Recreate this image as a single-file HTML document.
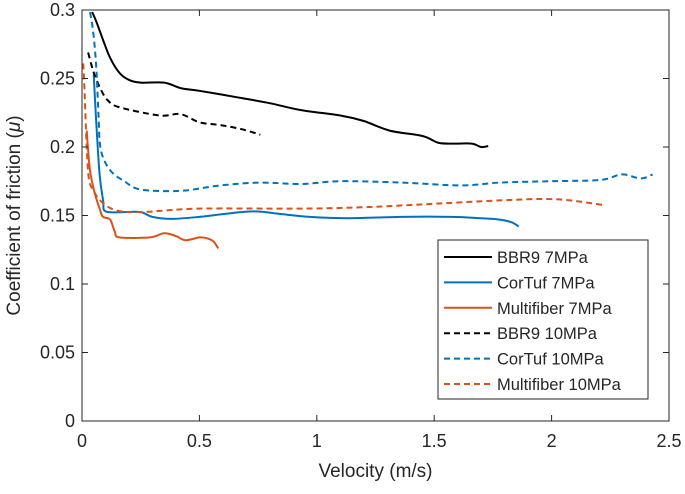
<!DOCTYPE html>
<html><head><meta charset="utf-8"><style>
body{margin:0;background:#fff}
svg text{font-family:"Liberation Sans",Arial,sans-serif;fill:#262626}
</style></head><body>
<svg id="chart" width="685" height="489" xmlns="http://www.w3.org/2000/svg">
<g id="marks"></g>
<g id="axes"></g>
<g id="legend"></g>
</svg>
<script>
const xTicks=[0,0.5,1,1.5,2,2.5];
const xTickLabels=["0","0.5","1","1.5","2","2.5"];
const yTicks=[0,0.05,0.1,0.15,0.2,0.25,0.3];
const yTickLabels=["0","0.05","0.1","0.15","0.2","0.25","0.3"];
const seriesNames=["BBR9 7MPa","CorTuf 7MPa","Multifiber 7MPa","BBR9 10MPa","CorTuf 10MPa","Multifiber 10MPa"];
const bbr7=[[0.043,0.2985],[0.06,0.292],[0.09,0.278],[0.12,0.265],[0.16,0.254],[0.2,0.249],[0.25,0.247],[0.35,0.247],[0.42,0.243],[0.5,0.241],[0.67,0.236],[0.8,0.232],[0.93,0.227],[1.1,0.223],[1.2,0.219],[1.31,0.212],[1.45,0.208],[1.52,0.203],[1.59,0.2025],[1.66,0.2025],[1.70,0.2],[1.73,0.2007]];
const cor7=[[0.05,0.253],[0.06,0.22],[0.075,0.18],[0.09,0.161],[0.1,0.153],[0.18,0.1525],[0.25,0.1525],[0.3,0.149],[0.38,0.1475],[0.5,0.149],[0.6,0.151],[0.73,0.153],[0.85,0.151],[0.97,0.149],[1.14,0.148],[1.36,0.149],[1.57,0.149],[1.7,0.148],[1.78,0.147],[1.83,0.145],[1.86,0.142]];
const mf7=[[0.02,0.212],[0.034,0.183],[0.055,0.166],[0.077,0.154],[0.09,0.149],[0.12,0.147],[0.14,0.138],[0.16,0.134],[0.29,0.134],[0.35,0.137],[0.4,0.135],[0.44,0.132],[0.5,0.134],[0.53,0.1335],[0.56,0.131],[0.58,0.126]];
const bbr10=[[0.026,0.269],[0.04,0.26],[0.055,0.252],[0.08,0.242],[0.11,0.234],[0.16,0.229],[0.33,0.223],[0.42,0.224],[0.5,0.218],[0.59,0.216],[0.68,0.213],[0.76,0.209]];
const cor10=[[0.034,0.2985],[0.047,0.285],[0.06,0.26],[0.07,0.225],[0.08,0.198],[0.12,0.183],[0.18,0.175],[0.25,0.169],[0.42,0.168],[0.59,0.172],[0.76,0.174],[0.93,0.173],[1.1,0.175],[1.36,0.174],[1.61,0.172],[1.78,0.174],[2.0,0.175],[2.21,0.176],[2.3,0.18],[2.38,0.177],[2.43,0.18]];
const mf10=[[0.005,0.261],[0.01,0.245],[0.02,0.2],[0.03,0.176],[0.05,0.168],[0.077,0.161],[0.14,0.154],[0.25,0.1525],[0.5,0.155],[0.93,0.155],[1.19,0.156],[1.44,0.158],[1.78,0.161],[2.0,0.162],[2.17,0.159],[2.23,0.157]];
const seriesData=[bbr7,cor7,mf7,bbr10,cor10,mf10];
const colors=["#000000","#0072bd","#d95319","#000000","#0072bd","#d95319"];
const dashed=[false,false,false,true,true,true];
const L=82,R=669,T=10,B=421;
const xs=v=>L+v/2.5*(R-L), ys=v=>B-v/0.3*(B-T);
const NS="http://www.w3.org/2000/svg";
function mk(t,a,p){const e=document.createElementNS(NS,t);for(const k in a)e.setAttribute(k,a[k]);p.appendChild(e);return e;}
function smooth(pts){
 let d='M'+pts[0][0].toFixed(1)+' '+pts[0][1].toFixed(1);
 for(let i=0;i<pts.length-1;i++){
  const p0=pts[Math.max(0,i-1)],p1=pts[i],p2=pts[i+1],p3=pts[Math.min(pts.length-1,i+2)];
  const c1=[p1[0]+(p2[0]-p0[0])/6,p1[1]+(p2[1]-p0[1])/6],c2=[p2[0]-(p3[0]-p1[0])/6,p2[1]-(p3[1]-p1[1])/6];
  d+=' C'+c1.map(v=>v.toFixed(1)).join(' ')+' '+c2.map(v=>v.toFixed(1)).join(' ')+' '+p2[0].toFixed(1)+' '+p2[1].toFixed(1);
 }
 return d;
}
const marks=document.getElementById('marks'),axes=document.getElementById('axes'),leg=document.getElementById('legend');
mk('rect',{x:L,y:T,width:R-L,height:B-T,fill:'#fff'},marks);
seriesData.forEach((d,i)=>{
 const p=mk('path',{d:smooth(d.map(q=>[xs(q[0]),ys(q[1])])),fill:'none',stroke:colors[i],'stroke-width':2,'stroke-linejoin':'round','stroke-dasharray':dashed[i]?'6,4':'none'},marks);
 
 
});
const box=mk('rect',{x:L,y:T,width:R-L,height:B-T,fill:'none',stroke:'#262626','stroke-width':1},axes);


xTicks.forEach((v,i)=>{const x=xs(v);
 mk('line',{x1:x,x2:x,y1:B,y2:B-6,stroke:'#262626'},axes);mk('line',{x1:x,x2:x,y1:T,y2:T+6,stroke:'#262626'},axes);
 const t=mk('text',{x:x,y:B+26,'text-anchor':'middle','font-size':18},axes);t.textContent=xTickLabels[i];
 
 });
yTicks.forEach((v,i)=>{const y=ys(v);
 mk('line',{x1:L,x2:L+6,y1:y,y2:y,stroke:'#262626'},axes);mk('line',{x1:R,x2:R-6,y1:y,y2:y,stroke:'#262626'},axes);
 const t=mk('text',{x:L-7,y:y+6,'text-anchor':'end','font-size':18},axes);t.textContent=yTickLabels[i];
 
 });
const xt=mk('text',{x:(L+R)/2,y:477,'text-anchor':'middle','font-size':19},axes);xt.textContent='Velocity (m/s)';


const yt=mk('text',{x:0,y:0,'text-anchor':'middle','font-size':19,transform:`translate(20,${(T+B)/2}) rotate(-90)`},axes);
yt.innerHTML='Coefficient of friction (<tspan font-style="italic">\u03bc</tspan>)';


mk('rect',{x:438,y:240,width:210,height:159,fill:'#fff',stroke:'#262626','stroke-width':1},leg);
seriesNames.forEach((n,i)=>{const y=257+i*25.4;
 const g=mk('g',{},leg);
 
 
 mk('line',{x1:444,x2:492,y1:y,y2:y,stroke:colors[i],'stroke-width':2,'stroke-dasharray':dashed[i]?'6,4':'none'},g);
 const t=mk('text',{x:497,y:y+6,'font-size':16.5},g);t.textContent=n;});
</script>
</body></html>
